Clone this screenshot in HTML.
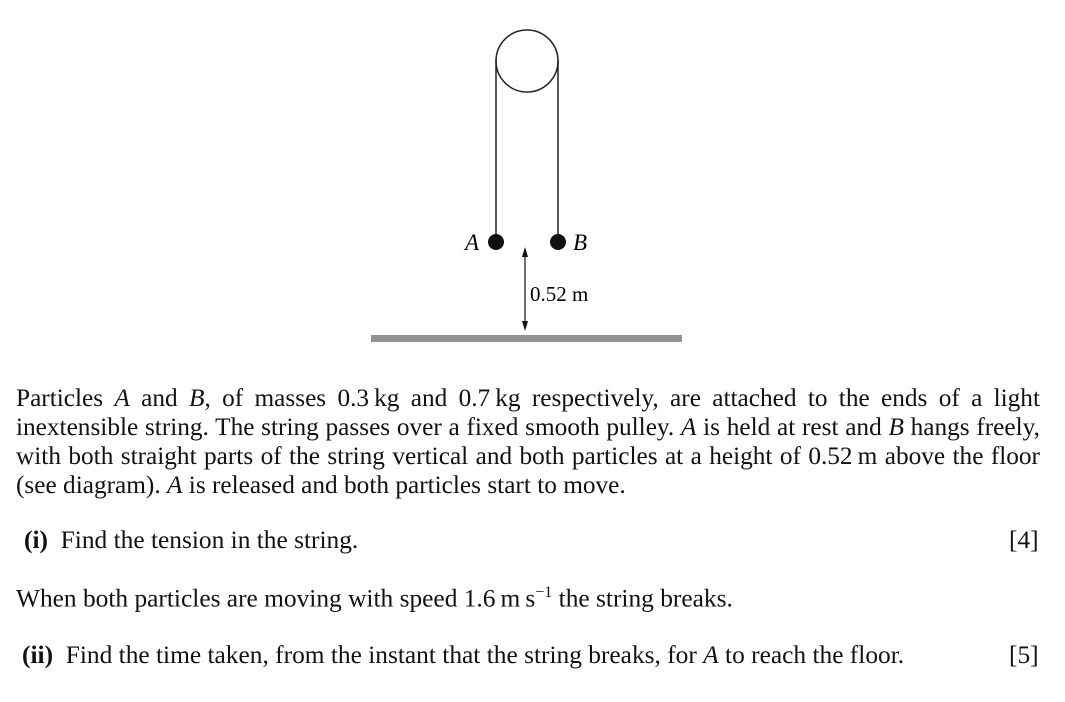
<!DOCTYPE html>
<html><head><style>
body{margin:0;width:1065px;height:702px;background:#fff;font-family:"Liberation Serif",serif;color:#111;position:relative;overflow:hidden}
.p{position:absolute;left:16px;width:1024px;font-size:25.3px;line-height:29px;top:384px}
.p div{text-align:justify;text-align-last:justify;white-space:nowrap}
.p div.last{text-align-last:left}
.l{position:absolute;font-size:25.4px;white-space:nowrap}
i{font-style:italic}
</style></head><body>
<svg width="1065" height="360" style="position:absolute;left:0;top:0">
<circle cx="527" cy="61" r="31" fill="none" stroke="#222" stroke-width="1.5"/>
<line x1="496" y1="60" x2="496" y2="240" stroke="#222" stroke-width="1.5"/>
<line x1="558" y1="60" x2="558" y2="240" stroke="#222" stroke-width="1.5"/>
<circle cx="496" cy="242" r="8" fill="#111"/>
<circle cx="558" cy="242" r="8" fill="#111"/>
<text x="465" y="250" font-family="Liberation Serif" font-style="italic" font-size="23">A</text>
<text x="573" y="250" font-family="Liberation Serif" font-style="italic" font-size="23">B</text>
<line x1="525" y1="254" x2="525" y2="324" stroke="#222" stroke-width="1.3"/>
<polygon points="525,247 522,257 528,257" fill="#111"/>
<polygon points="525,331 522,321 528,321" fill="#111"/>
<text x="530" y="301" font-family="Liberation Serif" font-size="21">0.52 m</text>
<rect x="371" y="335" width="311" height="7" fill="#939393"/>
</svg>
<div class="p">
<div>Particles <i>A</i> and <i>B</i>, of masses 0.3&#8201;kg and 0.7&#8201;kg respectively, are attached to the ends of a light</div>
<div>inextensible string. The string passes over a fixed smooth pulley. <i>A</i> is held at rest and <i>B</i> hangs freely,</div>
<div>with both straight parts of the string vertical and both particles at a height of 0.52&#8201;m above the floor</div>
<div class="last">(see diagram). <i>A</i> is released and both particles start to move.</div>
</div>
<div class="l" style="left:24px;top:526px"><b>(i)</b>&nbsp; Find the tension in the string.</div>
<div class="l" style="left:1009px;top:526px">[4]</div>
<div class="l" style="left:16px;top:584px">When both particles are moving with speed 1.6&#8201;m&#8201;s<sup style="font-size:16px">&minus;1</sup> the string breaks.</div>
<div class="l" style="left:22px;top:641px"><b>(ii)</b>&nbsp; Find the time taken, from the instant that the string breaks, for <i>A</i> to reach the floor.</div>
<div class="l" style="left:1009px;top:641px">[5]</div>
</body></html>
